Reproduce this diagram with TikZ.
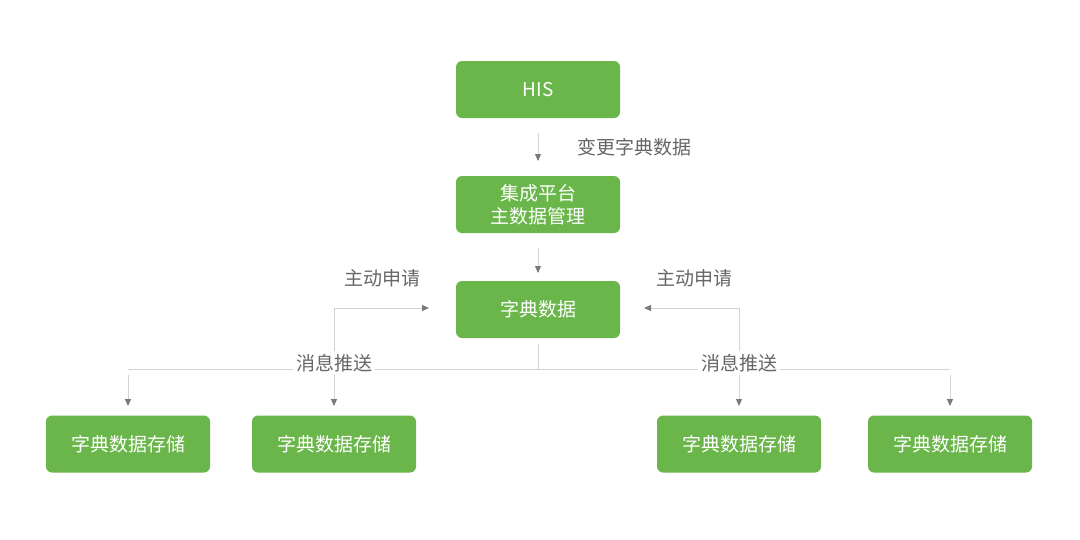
\documentclass[tikz,border=0pt]{standalone}
\usepackage{fontspec}
\setmainfont{Noto Sans CJK SC}
\usetikzlibrary{arrows.meta}
\definecolor{gbox}{HTML}{6AB64A}
\definecolor{lnc}{HTML}{D4D4D4}
\definecolor{arc}{HTML}{7A7A7A}
\definecolor{txc}{HTML}{666666}
\begin{document}
\begin{tikzpicture}[x=1pt,y=-1pt,
  box/.style={fill=gbox,rounded corners=6pt,minimum width=164pt,minimum height=57pt,text=white,font=\fontsize{19}{23}\selectfont,align=center,inner sep=0pt},
  ln/.style={draw=lnc,line width=0.9pt},
  ar/.style={ln,-{Triangle[color=arc,length=7pt,width=6pt]}},
  lab/.style={text=txc,font=\fontsize{19}{23}\selectfont,fill=white,inner sep=3pt}]
\useasboundingbox (0,0) rectangle (1080,539);
\node[box] (his) at (538,89.5) {HIS};
\node[box] (jc) at (538,204.5) {集成平台\\主数据管理};
\node[box] (zd) at (538,309.5) {字典数据};
\node[box] (b1) at (128,444) {字典数据存储};
\node[box] (b2) at (334,444) {字典数据存储};
\node[box] (b3) at (739,444) {字典数据存储};
\node[box] (b4) at (950,444) {字典数据存储};
\coordinate (a1) at (538,133); \coordinate (a2) at (538,161);
\draw[ar] (a1) -- (a2);
\node[lab,anchor=west] (l1) at (574,147) {变更字典数据};
\coordinate (c1) at (538,248); \coordinate (c2) at (538,273);
\draw[ar] (c1) -- (c2);
\coordinate (h0) at (538,344); \coordinate (hm) at (538,369);
\draw[ln] (h0) -- (hm);
\coordinate (hl) at (128,369); \coordinate (hr) at (950,369);
\draw[ln] (hl) -- (hr);
\foreach \x/\n in {128/b1,334/b2,739/b3,950/b4}{
  \draw[ar] (\x,375) -- (\x,406);
}
\draw[ar] (334,352) -- (334,308) -- (429,308);
\draw[ar] (739,352) -- (739,308) -- (644,308);
\node[lab] (m1) at (334,363) {消息推送};
\node[lab] (m2) at (739,363) {消息推送};
\node[lab,fill=none] (s1) at (382,278) {主动申请};
\node[lab,fill=none] (s2) at (694,278) {主动申请};
\end{tikzpicture}
\end{document}
